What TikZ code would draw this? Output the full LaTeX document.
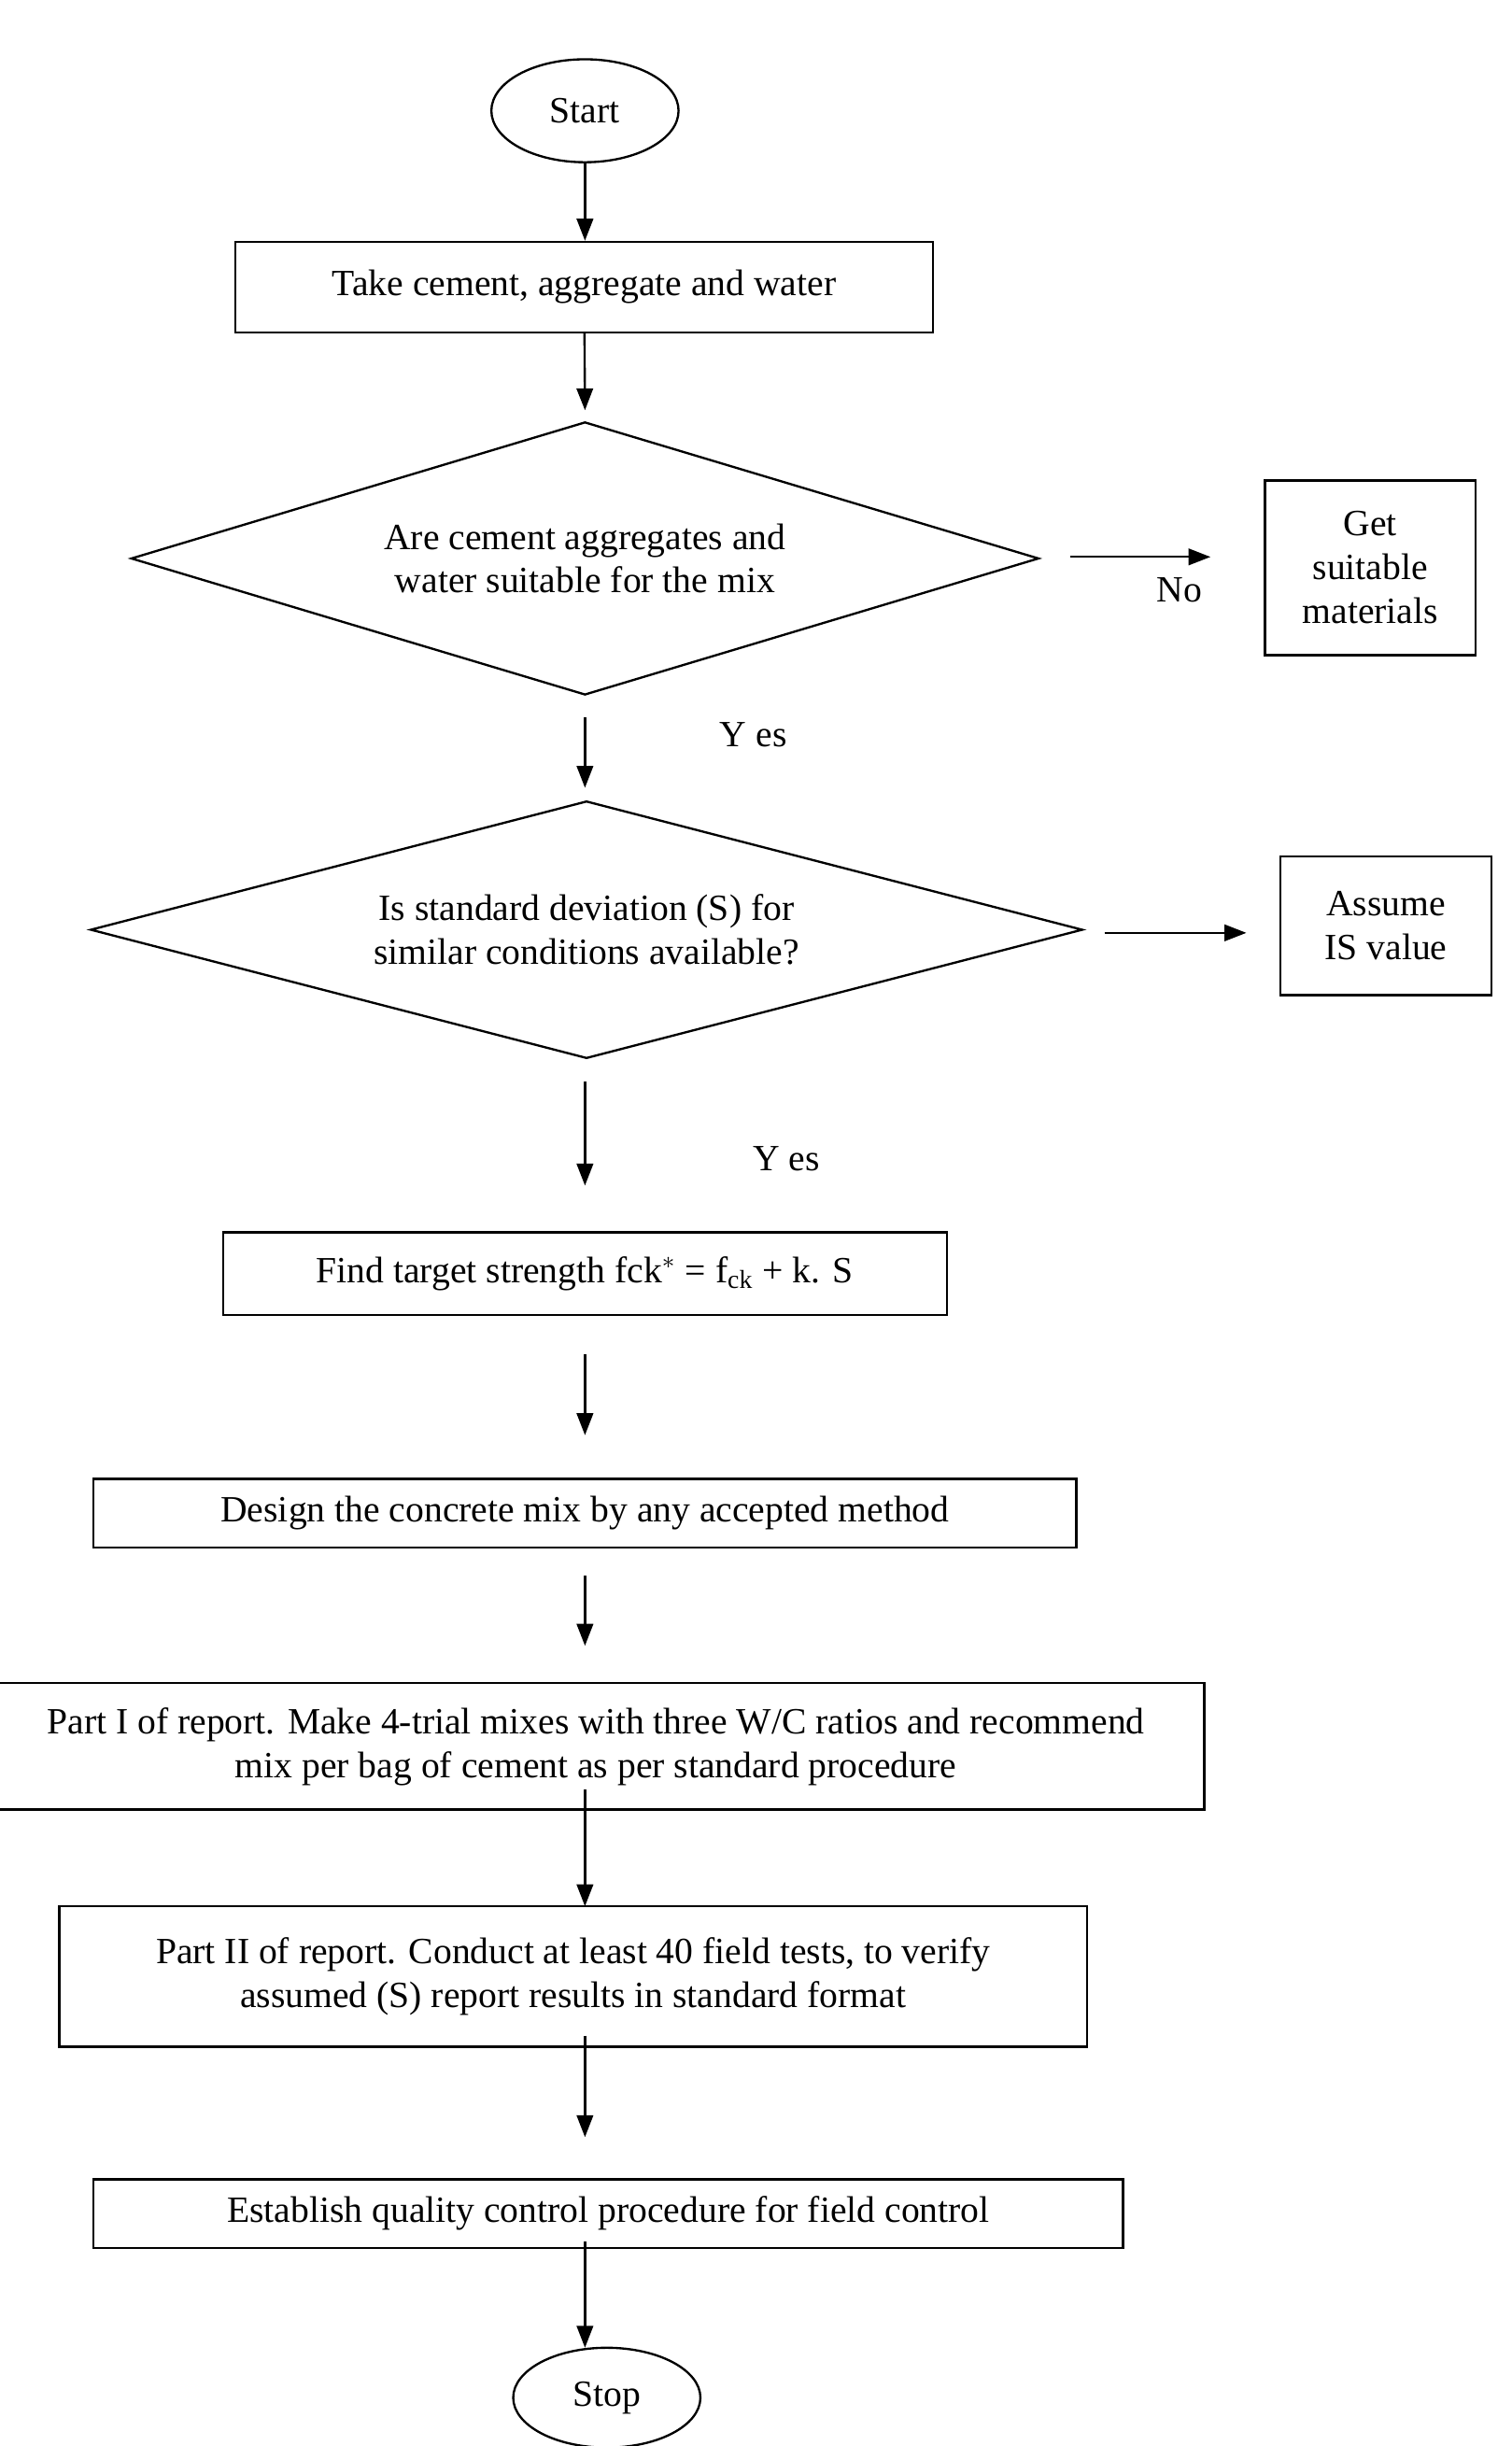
\documentclass[tikz,border=0pt]{standalone}
\usepackage{fontspec}
\setmainfont{Liberation Serif}
\usetikzlibrary{shapes.geometric,arrows.meta}
\begin{document}
\begin{tikzpicture}[x=0.02cm,y=-0.02cm,
  box/.style={draw,thick,rectangle,inner sep=0pt,font=\fontsize{13.5}{16}\selectfont,align=center},
  dia/.style={draw,thick,diamond,inner sep=0pt,font=\fontsize{13.5}{16}\selectfont,align=center},
  ell/.style={draw,thick,ellipse,inner sep=0pt,font=\fontsize{13.5}{16}\selectfont},
  arr/.style={thick,-{Triangle[length=8pt,width=6pt]}},
  lab/.style={font=\fontsize{13.5}{16}\selectfont}]
\useasboundingbox (0,0) rectangle (969,1568);
\node[ell,minimum width=120*0.02cm,minimum height=66*0.02cm] (start) at (375,71) {Start};
\node[box,minimum width=447*0.02cm,minimum height=58*0.02cm] (b1) at (374.5,184) {Take cement, aggregate and water};
\node[dia,minimum width=582*0.02cm,minimum height=175*0.02cm,aspect=3.3] (d1) at (375,358) {Are cement aggregates and\\water suitable for the mix};
\node[box,minimum width=135*0.02cm,minimum height=112*0.02cm] (get) at (878.5,364) {Get\\suitable\\materials};
\node[dia,minimum width=636*0.02cm,minimum height=165*0.02cm,aspect=3.85] (d2) at (376,596) {Is standard deviation (S) for\\similar conditions available?};
\node[box,minimum width=135*0.02cm,minimum height=89*0.02cm] (assume) at (888.5,593.5) {Assume\\IS value};
\node[box,minimum width=464*0.02cm,minimum height=53*0.02cm] (find) at (375,816.5) {Find target strength fck$^{*}$ = f$_{\mathrm{ck}}$ + k. S};
\node[box,minimum width=630*0.02cm,minimum height=44*0.02cm] (design) at (375,970) {Design the concrete mix by any accepted method};
\node[box,minimum width=780*0.02cm,minimum height=81*0.02cm] (p1) at (382,1119.5) {Part I of report. Make 4-trial mixes with three W/C ratios and recommend\\mix per bag of cement as per standard procedure};
\node[box,minimum width=659*0.02cm,minimum height=90*0.02cm] (p2) at (367.5,1267) {Part II of report. Conduct at least 40 field tests, to verify\\assumed (S) report results in standard format};
\node[box,minimum width=660*0.02cm,minimum height=44*0.02cm] (est) at (390,1419) {Establish quality control procedure for field control};
\node[ell,minimum width=120*0.02cm,minimum height=64*0.02cm] (stop) at (389,1537) {Stop};
\coordinate (a1) at (686,357); \coordinate (a2) at (776,357);
\coordinate (c1) at (375,460); \coordinate (c2) at (375,505);
\coordinate (e1) at (708,598); \coordinate (e2) at (799,598);
\coordinate (f1) at (375,693); \coordinate (f2) at (375,760);
\coordinate (g1) at (375,868); \coordinate (g2) at (375,920);
\coordinate (h1) at (375,1010); \coordinate (h2) at (375,1055);
\coordinate (i1) at (375,1147); \coordinate (i2) at (375,1222);
\coordinate (j1) at (375,1305); \coordinate (j2) at (375,1370);
\coordinate (k1) at (375,1437); \coordinate (k2) at (375,1505);
\draw[arr] (start) -- (start|-b1.north);
\draw[arr] (b1) -- (375,263);
\draw[arr] (a1) -- (a2);
\draw[arr] (c1) -- (c2);
\draw[arr] (e1) -- (e2);
\draw[arr] (f1) -- (f2);
\draw[arr] (g1) -- (g2);
\draw[arr] (h1) -- (h2);
\draw[arr] (i1) -- (i2);
\draw[arr] (j1) -- (j2);
\draw[arr] (k1) -- (k2);
\node[lab] (no) at (756,378) {No};
\node[lab] (y1) at (483,471) {Y es};
\node[lab] (y2) at (504,743) {Y es};
\end{tikzpicture}
\end{document}
